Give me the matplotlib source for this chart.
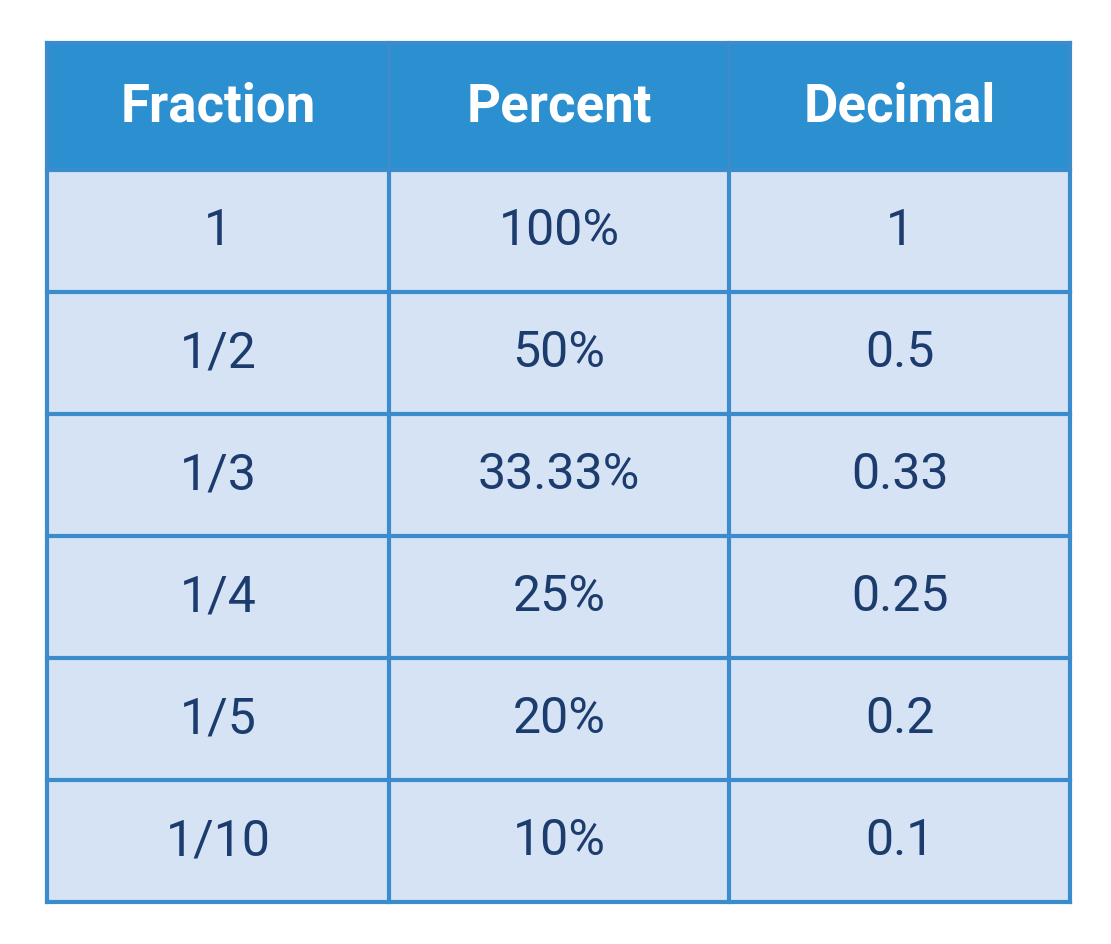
import matplotlib
matplotlib.use("Agg")
import matplotlib.pyplot as plt
from matplotlib.patches import Rectangle

headers = ["Fraction", "Percent", "Decimal"]
fractions = ["1", "1/2", "1/3", "1/4", "1/5", "1/10"]
percents = ["100%", "50%", "33.33%", "25%", "20%", "10%"]
decimals = ["1", "0.5", "0.33", "0.25", "0.2", "0.1"]

fig = plt.figure(figsize=(11.11, 9.44), dpi=100)
ax = fig.add_axes([0, 0, 1, 1])
ax.set_xlim(0, 1111); ax.set_ylim(944, 0); ax.axis("off")

cols = [47, 389, 729, 1070]
header_top, header_bot = 43, 170
row_h = (902 - header_bot) / len(fractions)
border = "#3a8ccc"
hdr = "#2b8fd0"
cell = "#d5e3f5"
txt = "#1d3c6e"

ax.add_patch(Rectangle((cols[0], header_top), cols[-1]-cols[0], header_bot-header_top, fc=hdr, ec="none"))
ax.add_patch(Rectangle((cols[0], header_bot), cols[-1]-cols[0], 902-header_bot, fc=cell, ec="none"))
for i, h in enumerate(headers):
    ax.text((cols[i]+cols[i+1])/2, (header_top+header_bot)/2, h, ha="center", va="center",
            color="white", fontsize=38, fontweight="bold", family="Roboto")
for r, row in enumerate(zip(fractions, percents, decimals)):
    yc = header_bot + (r+0.5)*row_h
    for c, v in enumerate(row):
        ax.text((cols[c]+cols[c+1])/2, yc, v, ha="center", va="center", color=txt,
                fontsize=36, family="Roboto")
for x in cols:
    ax.plot([x, x], [header_top, 902], color=border, lw=3)
for r in range(len(fractions)+1):
    y = header_bot + r*row_h
    ax.plot([cols[0], cols[-1]], [y, y], color=border, lw=3)
ax.plot([cols[0], cols[-1]], [header_top, header_top], color=border, lw=3)
fig.savefig("out.png", dpi=100, facecolor="white")
